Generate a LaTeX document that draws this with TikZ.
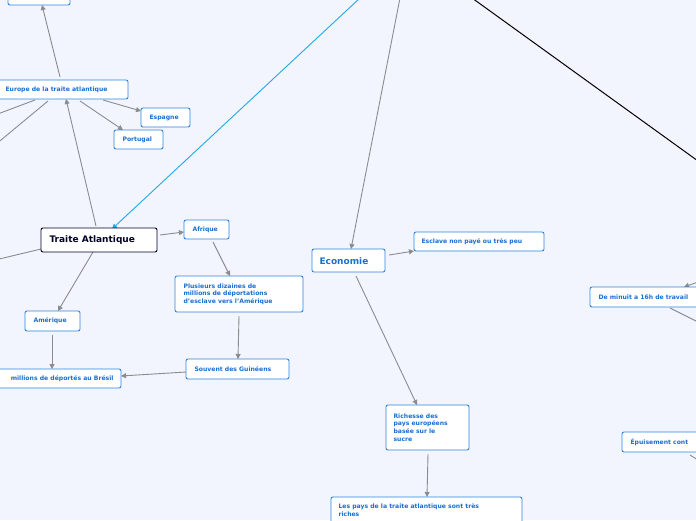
\documentclass[tikz,border=0pt]{standalone}
\usepackage{fontspec}
\setmainfont{DejaVu Sans}
\usetikzlibrary{arrows.meta}
\definecolor{bg}{HTML}{F2F5FE}
\definecolor{nb}{HTML}{2E86DE}
\definecolor{nt}{HTML}{1A6FD0}
\definecolor{eg}{HTML}{8A8C90}
\begin{document}
\begin{tikzpicture}[x=1pt,y=-1pt,
 box/.style={draw=nb,line width=0.9pt,fill=white,rounded corners=2pt},
 lbl/.style={text=nt,font=\bfseries\fontsize{6.1}{7.6}\selectfont,anchor=west,align=left},
 ed/.style={draw=eg,line width=0.9pt,-{Triangle[length=5pt,width=5pt]}},
 pl/.style={draw=eg,line width=0.9pt}]
\useasboundingbox (0,0) rectangle (696,520);
\clip (0,0) rectangle (696,520);
\fill[bg] (0,0) rectangle (696,520);
% edges
\coordinate (tl1) at (360,-2); \coordinate (tl2) at (400,-2); \coordinate (tl3) at (472,-2);
\coordinate (r1) at (698,161); \coordinate (lf1) at (-5,115); \coordinate (lf2) at (-5,145); \coordinate (lf3) at (-5,260);
\draw[draw=nb!70!cyan,line width=0.9pt,-{Triangle[length=5pt,width=5pt]}] (tl1) -- (112,229);
\draw[black,line width=1pt] (tl3) -- (r1);
\draw[ed] (tl2) -- (351,249);
\draw[ed] (60,77) -- (42,5);
\draw[ed] (96,226) -- (66,99);
\draw[ed] (103,100) -- (141,111);
\draw[ed] (80,101) -- (123,130);
\draw[pl] (35,100) -- (lf1);
\draw[pl] (48,101) -- (lf2);
\draw[pl] (41,249) -- (lf3);
\draw[ed] (160,235) -- (184,232);
\draw[ed] (213,242) -- (230,276);
\draw[ed] (239,316) -- (238,359);
\draw[ed] (186,372) -- (121,376);
\draw[ed] (93,252) -- (58,311);
\draw[ed] (52,335) -- (52,369);
\draw[ed] (389,255) -- (414,251);
\draw[ed] (356,276) -- (417,405);
\draw[ed] (428,454) -- (427,497);
\draw[ed] (698,282) -- (684,287);
\draw[pl] (670,308) -- (698,322);
\draw[pl] (690,455) -- (698,460);
% nodes
\draw[box] (8,-12) rectangle (70,5) node[midway] (n0) {};
\draw[box] (-5,80) rectangle (128,99); \node[lbl] (eu) at (2,89.5) {Europe de la traite atlantique};
\draw[box] (141,108) rectangle (190,127); \node[lbl] (es) at (146,117.5) {Espagne};
\draw[box] (114,130) rectangle (163,149); \node[lbl] (po) at (119,139.5) {Portugal};
\draw[draw=black!85!blue,line width=0.9pt,fill=white,rounded corners=2pt] (41,228) rectangle (157,252);
\node[anchor=west,text=black!85!blue,font=\bfseries\fontsize{9}{10}\selectfont] (ta) at (46,240) {Traite Atlantique};
\draw[box] (184,220) rectangle (229,239); \node[lbl] (af) at (189,229.5) {Afrique};
\draw[box] (175,276) rectangle (303,312); \node[lbl] (pl) at (180,294) {Plusieurs dizaines de\\millions de déportations\\d'esclave vers l'Amérique};
\draw[box] (25,311) rectangle (80,331); \node[lbl] (am) at (30,321) {Amérique};
\draw[box] (-10,369) rectangle (121,388); \node[lbl,anchor=east] (br) at (117,379) {millions de déportés au Brésil};
\draw[box] (186,359) rectangle (289,379); \node[lbl] (so) at (191,369) {Souvent des Guinéens};
\draw[box] (312,249) rectangle (385,272); \node[anchor=west,text=nt,font=\bfseries\fontsize{9}{10}\selectfont] (ec) at (316,261) {Economie};
\draw[box] (414,232) rectangle (544,251); \node[lbl] (esc) at (418,241.5) {Esclave non payé ou très peu};
\draw[box] (386,405) rectangle (469,450); \node[lbl] (ri) at (390,427.5) {Richesse des\\pays européens\\basée sur le\\sucre};
\draw[box] (331,497) rectangle (522,530); \node[lbl,anchor=north west] (lp) at (335,500) {Les pays de la traite atlantique sont très\\riches};
\draw[box] (590,287) rectangle (705,307); \node[lbl] (dm) at (595,297) {De minuit a 16h de travail};
\draw[box] (622,432) rectangle (705,452); \node[lbl] (ep) at (627,442) {Épuisement cont};
\end{tikzpicture}
\end{document}
